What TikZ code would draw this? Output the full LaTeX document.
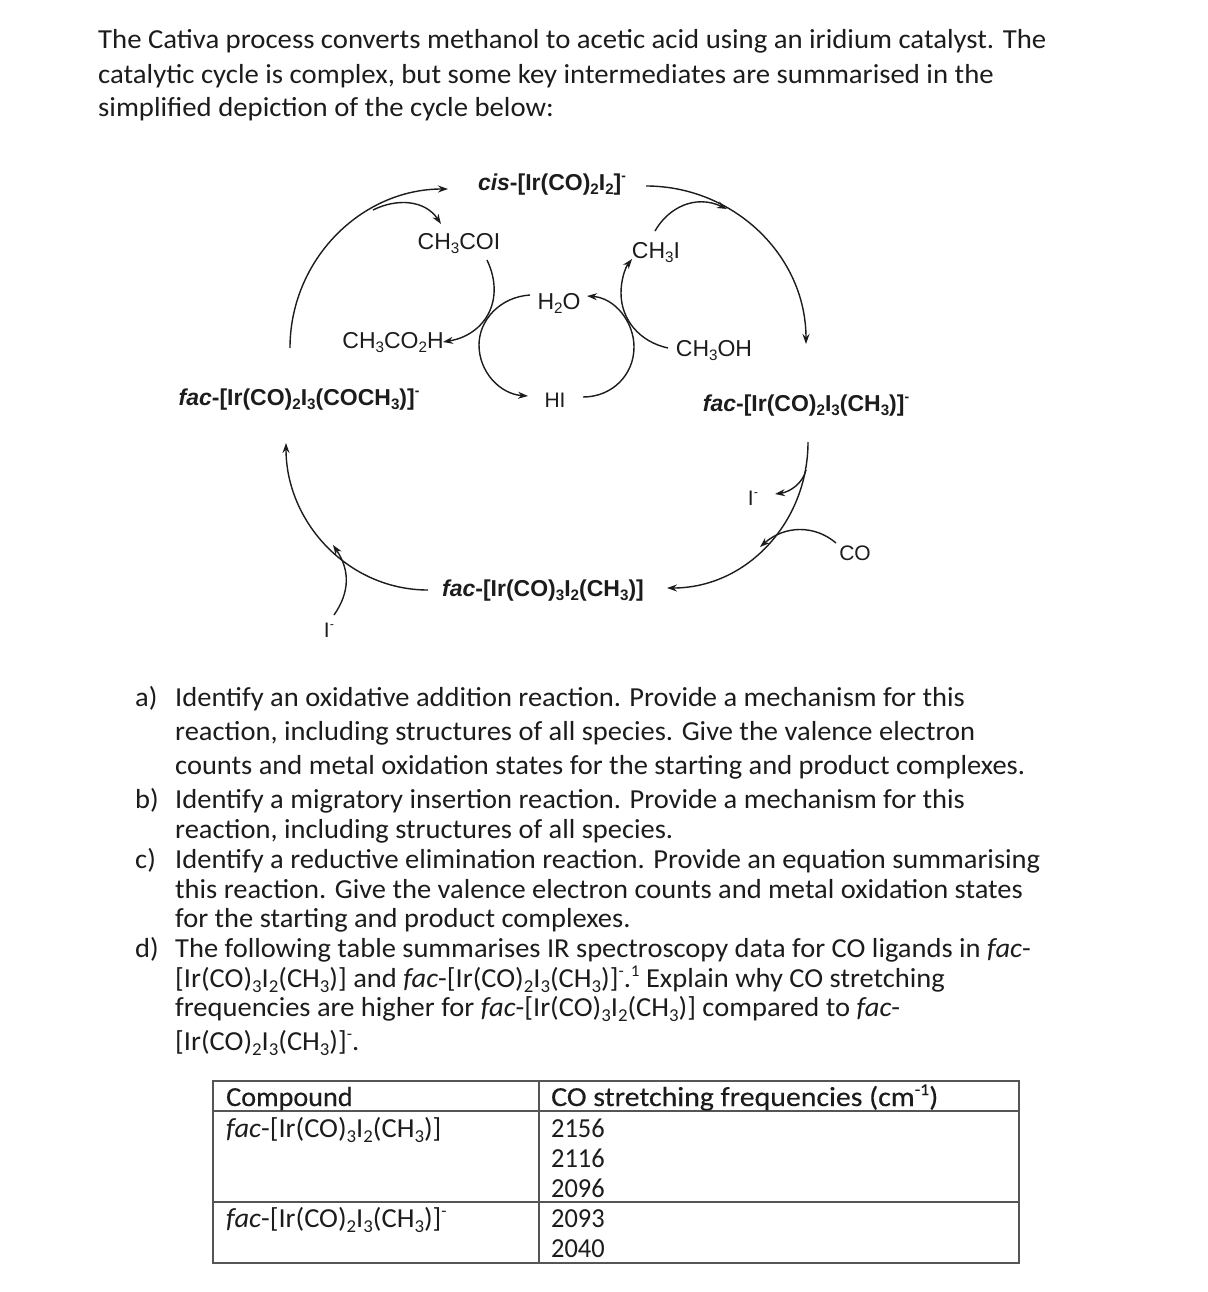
\documentclass[tikz,border=0pt]{standalone}
\usepackage{fontspec}
\usepackage{graphicx}
\usetikzlibrary{arrows.meta}
\setmainfont[FakeStretch=1.036]{Carlito}
\newfontfamily\introfont[FakeStretch=1.045]{Carlito}
\newfontfamily\chemfont{Liberation Sans}
\newfontfamily\numfont[FakeStretch=.96]{Carlito}
\newfontfamily\headfont[FakeStretch=1.085,FakeBold=0.35]{Carlito}
\newfontfamily\compfont[FakeStretch=1.025,FakeBold=0.35]{Carlito}
\newcommand\sbs[1]{\raisebox{-.2em}{\scalebox{.66}{#1}}}
\newcommand\sps[1]{\raisebox{.4em}{\scalebox{.6}{#1}}}
\definecolor{ink}{HTML}{1C1C1C}
\definecolor{rule}{HTML}{555555}
\tikzset{
  x=1pt,y=-1pt,
  intro/.style={anchor=base west,inner sep=0pt,text=ink,font=\introfont\fontsize{27.5}{30}\selectfont},
  body/.style={anchor=base west,inner sep=0pt,text=ink,font=\fontsize{27.5}{30}\selectfont},
  cell/.style={anchor=base west,inner sep=0pt,text=ink,font=\fontsize{27.5}{30}\selectfont},
  numcell/.style={anchor=base west,inner sep=0pt,text=ink,font=\numfont\fontsize{27.5}{30}\selectfont},
  chem/.style={anchor=base,inner sep=0pt,text=ink,font=\chemfont\fontsize{23}{26}\selectfont},
  small/.style={anchor=base,inner sep=0pt,text=ink,font=\chemfont\fontsize{21}{24}\selectfont},
  cplx/.style={anchor=base,inner sep=0pt,text=ink,font=\chemfont\bfseries\fontsize{23}{26}\selectfont},
  arr/.style={draw=ink,line width=1.4pt,-{Stealth[length=10pt,width=7pt]}},
  tbl/.style={draw=rule,line width=1.3pt},
}
\begin{document}
\begin{tikzpicture}
\useasboundingbox[fill=white] (0,0) rectangle (1207,1292);
% intro
\node[intro] (t1) at (98,49) {The Cativa process converts methanol to acetic acid using an iridium catalyst. The};
\node[intro] (t2) at (98,84) {catalytic cycle is complex, but some key intermediates are summarised in the};
\node[intro] (t3) at (98,117) {simplified depiction of the cycle below:};
% cycle labels
\node[cplx] (cis) at (552,190) {\textit{cis}-[Ir(CO)\sbs{2}I\sbs{2}]\sps{-}};
\node[chem] (acoi) at (459,249) {CH\sbs{3}COI};
\node[chem] (mei) at (656,258) {CH\sbs{3}I};
\node[chem] (water) at (559,309) {H\sbs{2}O};
\node[chem] (acoh) at (393,348) {CH\sbs{3}CO\sbs{2}H};
\node[chem] (meoh) at (714,356) {CH\sbs{3}OH};
\node[cplx] (acyl) at (299,405) {\textit{fac}-[Ir(CO)\sbs{2}I\sbs{3}(COCH\sbs{3})]\sps{-}};
\node[small] (hi) at (555,407) {HI};
\node[cplx] (methyl) at (806,411) {\textit{fac}-[Ir(CO)\sbs{2}I\sbs{3}(CH\sbs{3})]\sps{-}};
\node[small] (iout) at (753,505) {I\sps{-}};
\node[small] (co) at (855,560) {CO};
\node[cplx] (neutral) at (543,596) {\textit{fac}-[Ir(CO)\sbs{3}I\sbs{2}(CH\sbs{3})]};
\node[small] (iin) at (329,637) {I\sps{-}};
% connector ends
\coordinate (a1) at (290,348); \coordinate (a2) at (448,189);
\coordinate (b1) at (646,186); \coordinate (b2) at (806,344);
\coordinate (c1) at (808,442); \coordinate (c2) at (667,588);
\coordinate (d1) at (428,590); \coordinate (d2) at (286,443);
\coordinate (e1) at (373,210); \coordinate (e2) at (441,224);
\coordinate (f1) at (487,260); \coordinate (f2) at (443,342);
\coordinate (g1) at (530,295); \coordinate (g2) at (528,396);
\coordinate (h1) at (583,397); \coordinate (h2) at (587,296);
\coordinate (i1) at (668,348); \coordinate (i2) at (632,259);
\coordinate (j1) at (655,231); \coordinate (j2) at (727,209);
\coordinate (k1) at (806,470); \coordinate (k2) at (775,494);
\coordinate (l1) at (836,543); \coordinate (l2) at (760,547);
\coordinate (m1) at (334,615); \coordinate (m2) at (333,545);
% connectors
\draw[arr] (a1) .. controls (290,260) and (361,189) .. (a2);
\draw[arr] (b1) .. controls (734,186) and (806,256) .. (b2);
\draw[arr] (c1) .. controls (808,522) and (747,588) .. (c2);
\draw[arr] (d1) .. controls (348,590) and (286,522) .. (d2);
\draw[arr] (e1) .. controls (397,198) and (425,200) .. (e2);
\draw[arr] (f1) .. controls (506,300) and (485,335) .. (f2);
\draw[arr] (g1) .. controls (500,297) and (479,320) .. (479,345) .. controls (479,372) and (500,394) .. (g2);
\draw[arr] (h1) .. controls (612,397) and (634,375) .. (634,347) .. controls (634,322) and (615,298) .. (h2);
\draw[arr] (i1) .. controls (640,342) and (621,320) .. (621,293) .. controls (621,280) and (625,268) .. (i2);
\draw[arr] (j1) .. controls (668,208) and (695,194) .. (j2);
\draw[arr] (k1) .. controls (803,483) and (790,492) .. (k2);
\draw[arr] (l1) .. controls (815,525) and (785,525) .. (l2);
\draw[arr] (m1) .. controls (350,592) and (350,570) .. (m2);
% questions
\node[body] (qa) at (135,706) {a)};
\node[body] (qa1) at (175,706) {Identify an oxidative addition reaction. Provide a mechanism for this};
\node[body] (qa2) at (175,740) {reaction, including structures of all species. Give the valence electron};
\node[body] (qa3) at (175,774) {counts and metal oxidation states for the starting and product complexes.};
\node[body] (qb) at (135,808) {b)};
\node[body] (qb1) at (175,808) {Identify a migratory insertion reaction. Provide a mechanism for this};
\node[body] (qb2) at (175,838) {reaction, including structures of all species.};
\node[body] (qc) at (135,868) {c)};
\node[body] (qc1) at (175,868) {Identify a reductive elimination reaction. Provide an equation summarising};
\node[body] (qc2) at (175,898) {this reaction. Give the valence electron counts and metal oxidation states};
\node[body] (qc3) at (175,927) {for the starting and product complexes.};
\node[body] (qd) at (135,957) {d)};
\node[body] (qd1) at (175,957) {The following table summarises IR spectroscopy data for CO ligands in \textit{fac}-};
\node[body] (qd2) at (175,987) {[Ir(CO)\sbs{3}I\sbs{2}(CH\sbs{3})] and \textit{fac}-[Ir(CO)\sbs{2}I\sbs{3}(CH\sbs{3})]\sps{-}.\sps{1} Explain why CO stretching};
\node[body] (qd3) at (175,1016) {frequencies are higher for \textit{fac}-[Ir(CO)\sbs{3}I\sbs{2}(CH\sbs{3})] compared to \textit{fac}-};
\node[body] (qd4) at (175,1050) {[Ir(CO)\sbs{2}I\sbs{3}(CH\sbs{3})]\sps{-}.};
% table
\draw[tbl] (213,1081) rectangle (1019,1263);
\draw[tbl] (213,1111) -- (1019,1111);
\draw[tbl] (213,1202) -- (1019,1202);
\draw[tbl] (539,1081) -- (539,1263);
\node[cell] (h1c) at (226,1106) {\compfont Compound};
\node[cell] (h2c) at (551,1106) {\headfont CO stretching frequencies (cm\sps{-1})};
\node[cell] (r1a) at (226,1137) {\textit{fac}-[Ir(CO)\sbs{3}I\sbs{2}(CH\sbs{3})]};
\node[numcell] (r1b) at (551,1137) {2156};
\node[numcell] (r1c) at (551,1167) {2116};
\node[numcell] (r1d) at (551,1197) {2096};
\node[cell] (r2a) at (226,1227) {\textit{fac}-[Ir(CO)\sbs{2}I\sbs{3}(CH\sbs{3})]\sps{-}};
\node[numcell] (r2b) at (551,1227) {2093};
\node[numcell] (r2c) at (551,1257) {2040};
\end{tikzpicture}
\end{document}
